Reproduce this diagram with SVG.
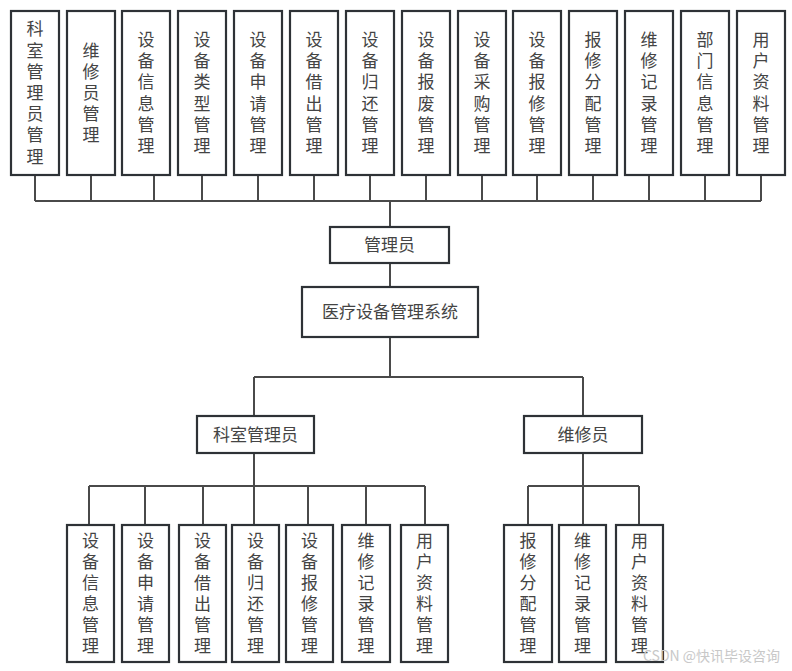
<svg xmlns="http://www.w3.org/2000/svg" width="792" height="671" viewBox="0 0 792 671">
<style>
.box{fill:#fff;stroke:#2e3236;stroke-width:2.2}
.t{font-family:"Noto Sans CJK SC","Noto Sans",sans-serif;font-size:17px;fill:#444;text-anchor:middle}
.ln{fill:none;stroke:#4a4a4a;stroke-width:2}
.wm{font-family:"Noto Sans CJK SC","Noto Sans",sans-serif;font-size:14px;fill:#c8c8c8}
</style>
<rect width="792" height="671" fill="#fff"/>
<g id="connectors">
<path class="ln" d="M35,175V201M91,175V201M154,175V201M202,175V201M258,175V201M314,175V201M370,175V201M426,175V201M482,175V201M537,175V201M593,175V201M649,175V201M705,175V201M761,175V201M35,201H761"/>
<path class="ln" stroke-width="2.6" d="M390,201V227"/>
<path class="ln" d="M390,263V287M390,337V377M254,377H583M254,377V416M583,377V416"/>
<path class="ln" d="M254,453V486M89,486H425M89,486V525M145,486V525M203,486V525M254,486V525M308,486V525M366,486V525M425,486V525"/>
<path class="ln" d="M583,453V486M528,486H639M528,486V525M583,486V525M639,486V525"/>
</g>
<g id="top1"><rect class="box" x="11" y="11" width="48" height="164"/><text class="t" y="35.4"><tspan x="35">科</tspan><tspan x="35" dy="21.2">室</tspan><tspan x="35" dy="21.2">管</tspan><tspan x="35" dy="21.2">理</tspan><tspan x="35" dy="21.2">员</tspan><tspan x="35" dy="21.2">管</tspan><tspan x="35" dy="21.2">理</tspan></text></g>
<g id="top2"><rect class="box" x="67" y="11" width="48" height="164"/><text class="t" y="56.6"><tspan x="91">维</tspan><tspan x="91" dy="21.2">修</tspan><tspan x="91" dy="21.2">员</tspan><tspan x="91" dy="21.2">管</tspan><tspan x="91" dy="21.2">理</tspan></text></g>
<g id="top3"><rect class="box" x="122" y="11" width="48" height="164"/><text class="t" y="46"><tspan x="146">设</tspan><tspan x="146" dy="21.2">备</tspan><tspan x="146" dy="21.2">信</tspan><tspan x="146" dy="21.2">息</tspan><tspan x="146" dy="21.2">管</tspan><tspan x="146" dy="21.2">理</tspan></text></g>
<g id="top4"><rect class="box" x="178" y="11" width="48" height="164"/><text class="t" y="46"><tspan x="202">设</tspan><tspan x="202" dy="21.2">备</tspan><tspan x="202" dy="21.2">类</tspan><tspan x="202" dy="21.2">型</tspan><tspan x="202" dy="21.2">管</tspan><tspan x="202" dy="21.2">理</tspan></text></g>
<g id="top5"><rect class="box" x="234" y="11" width="48" height="164"/><text class="t" y="46"><tspan x="258">设</tspan><tspan x="258" dy="21.2">备</tspan><tspan x="258" dy="21.2">申</tspan><tspan x="258" dy="21.2">请</tspan><tspan x="258" dy="21.2">管</tspan><tspan x="258" dy="21.2">理</tspan></text></g>
<g id="top6"><rect class="box" x="290" y="11" width="48" height="164"/><text class="t" y="46"><tspan x="314">设</tspan><tspan x="314" dy="21.2">备</tspan><tspan x="314" dy="21.2">借</tspan><tspan x="314" dy="21.2">出</tspan><tspan x="314" dy="21.2">管</tspan><tspan x="314" dy="21.2">理</tspan></text></g>
<g id="top7"><rect class="box" x="346" y="11" width="48" height="164"/><text class="t" y="46"><tspan x="370">设</tspan><tspan x="370" dy="21.2">备</tspan><tspan x="370" dy="21.2">归</tspan><tspan x="370" dy="21.2">还</tspan><tspan x="370" dy="21.2">管</tspan><tspan x="370" dy="21.2">理</tspan></text></g>
<g id="top8"><rect class="box" x="402" y="11" width="48" height="164"/><text class="t" y="46"><tspan x="426">设</tspan><tspan x="426" dy="21.2">备</tspan><tspan x="426" dy="21.2">报</tspan><tspan x="426" dy="21.2">废</tspan><tspan x="426" dy="21.2">管</tspan><tspan x="426" dy="21.2">理</tspan></text></g>
<g id="top9"><rect class="box" x="458" y="11" width="48" height="164"/><text class="t" y="46"><tspan x="482">设</tspan><tspan x="482" dy="21.2">备</tspan><tspan x="482" dy="21.2">采</tspan><tspan x="482" dy="21.2">购</tspan><tspan x="482" dy="21.2">管</tspan><tspan x="482" dy="21.2">理</tspan></text></g>
<g id="top10"><rect class="box" x="513" y="11" width="48" height="164"/><text class="t" y="46"><tspan x="537">设</tspan><tspan x="537" dy="21.2">备</tspan><tspan x="537" dy="21.2">报</tspan><tspan x="537" dy="21.2">修</tspan><tspan x="537" dy="21.2">管</tspan><tspan x="537" dy="21.2">理</tspan></text></g>
<g id="top11"><rect class="box" x="569" y="11" width="48" height="164"/><text class="t" y="46"><tspan x="593">报</tspan><tspan x="593" dy="21.2">修</tspan><tspan x="593" dy="21.2">分</tspan><tspan x="593" dy="21.2">配</tspan><tspan x="593" dy="21.2">管</tspan><tspan x="593" dy="21.2">理</tspan></text></g>
<g id="top12"><rect class="box" x="625" y="11" width="48" height="164"/><text class="t" y="46"><tspan x="649">维</tspan><tspan x="649" dy="21.2">修</tspan><tspan x="649" dy="21.2">记</tspan><tspan x="649" dy="21.2">录</tspan><tspan x="649" dy="21.2">管</tspan><tspan x="649" dy="21.2">理</tspan></text></g>
<g id="top13"><rect class="box" x="681" y="11" width="48" height="164"/><text class="t" y="46"><tspan x="705">部</tspan><tspan x="705" dy="21.2">门</tspan><tspan x="705" dy="21.2">信</tspan><tspan x="705" dy="21.2">息</tspan><tspan x="705" dy="21.2">管</tspan><tspan x="705" dy="21.2">理</tspan></text></g>
<g id="top14"><rect class="box" x="737" y="11" width="48" height="164"/><text class="t" y="46"><tspan x="761">用</tspan><tspan x="761" dy="21.2">户</tspan><tspan x="761" dy="21.2">资</tspan><tspan x="761" dy="21.2">料</tspan><tspan x="761" dy="21.2">管</tspan><tspan x="761" dy="21.2">理</tspan></text></g>
<g id="admin"><rect class="box" x="330" y="227" width="119" height="36"/><text class="t" x="389.5" y="251">管理员</text></g>
<g id="system"><rect class="box" x="302" y="287" width="176" height="50"/><text class="t" x="390" y="318">医疗设备管理系统</text></g>
<g id="deptAdmin"><rect class="box" x="197" y="416" width="117" height="37"/><text class="t" x="255.5" y="440.5">科室管理员</text></g>
<g id="repairer"><rect class="box" x="524" y="416" width="118" height="37"/><text class="t" x="583" y="440.5">维修员</text></g>
<g id="bl1"><rect class="box" x="67" y="525" width="47" height="137"/><text class="t" y="547"><tspan x="90.5">设</tspan><tspan x="90.5" dy="21">备</tspan><tspan x="90.5" dy="21">信</tspan><tspan x="90.5" dy="21">息</tspan><tspan x="90.5" dy="21">管</tspan><tspan x="90.5" dy="21">理</tspan></text></g>
<g id="bl2"><rect class="box" x="122" y="525" width="47" height="137"/><text class="t" y="547"><tspan x="145.5">设</tspan><tspan x="145.5" dy="21">备</tspan><tspan x="145.5" dy="21">申</tspan><tspan x="145.5" dy="21">请</tspan><tspan x="145.5" dy="21">管</tspan><tspan x="145.5" dy="21">理</tspan></text></g>
<g id="bl3"><rect class="box" x="179" y="525" width="47" height="137"/><text class="t" y="547"><tspan x="202.5">设</tspan><tspan x="202.5" dy="21">备</tspan><tspan x="202.5" dy="21">借</tspan><tspan x="202.5" dy="21">出</tspan><tspan x="202.5" dy="21">管</tspan><tspan x="202.5" dy="21">理</tspan></text></g>
<g id="bl4"><rect class="box" x="232" y="525" width="47" height="137"/><text class="t" y="547"><tspan x="255.5">设</tspan><tspan x="255.5" dy="21">备</tspan><tspan x="255.5" dy="21">归</tspan><tspan x="255.5" dy="21">还</tspan><tspan x="255.5" dy="21">管</tspan><tspan x="255.5" dy="21">理</tspan></text></g>
<g id="bl5"><rect class="box" x="286" y="525" width="47" height="137"/><text class="t" y="547"><tspan x="309.5">设</tspan><tspan x="309.5" dy="21">备</tspan><tspan x="309.5" dy="21">报</tspan><tspan x="309.5" dy="21">修</tspan><tspan x="309.5" dy="21">管</tspan><tspan x="309.5" dy="21">理</tspan></text></g>
<g id="bl6"><rect class="box" x="342" y="525" width="48" height="137"/><text class="t" y="547"><tspan x="366">维</tspan><tspan x="366" dy="21">修</tspan><tspan x="366" dy="21">记</tspan><tspan x="366" dy="21">录</tspan><tspan x="366" dy="21">管</tspan><tspan x="366" dy="21">理</tspan></text></g>
<g id="bl7"><rect class="box" x="401" y="525" width="47" height="137"/><text class="t" y="547"><tspan x="424.5">用</tspan><tspan x="424.5" dy="21">户</tspan><tspan x="424.5" dy="21">资</tspan><tspan x="424.5" dy="21">料</tspan><tspan x="424.5" dy="21">管</tspan><tspan x="424.5" dy="21">理</tspan></text></g>
<g id="br1"><rect class="box" x="504" y="525" width="48" height="137"/><text class="t" y="547"><tspan x="528">报</tspan><tspan x="528" dy="21">修</tspan><tspan x="528" dy="21">分</tspan><tspan x="528" dy="21">配</tspan><tspan x="528" dy="21">管</tspan><tspan x="528" dy="21">理</tspan></text></g>
<g id="br2"><rect class="box" x="559" y="525" width="47" height="137"/><text class="t" y="547"><tspan x="582.5">维</tspan><tspan x="582.5" dy="21">修</tspan><tspan x="582.5" dy="21">记</tspan><tspan x="582.5" dy="21">录</tspan><tspan x="582.5" dy="21">管</tspan><tspan x="582.5" dy="21">理</tspan></text></g>
<g id="br3"><rect class="box" x="616" y="525" width="47" height="137"/><text class="t" y="547"><tspan x="639.5">用</tspan><tspan x="639.5" dy="21">户</tspan><tspan x="639.5" dy="21">资</tspan><tspan x="639.5" dy="21">料</tspan><tspan x="639.5" dy="21">管</tspan><tspan x="639.5" dy="21">理</tspan></text></g>
<text class="wm" x="643" y="661">CSDN @快讯毕设咨询</text>
</svg>
